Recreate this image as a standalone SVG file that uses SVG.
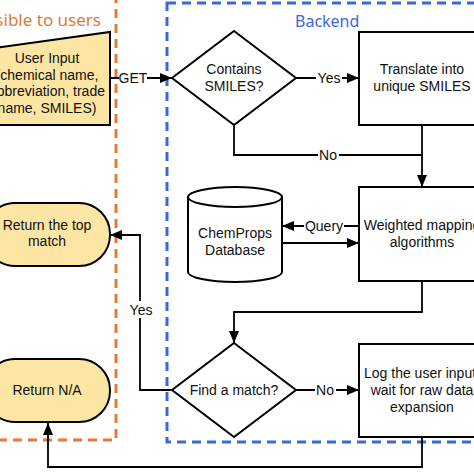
<svg xmlns="http://www.w3.org/2000/svg" width="474" height="474" viewBox="0 0 474 474">
<defs>
<marker id="ah" viewBox="0 0 12 10" refX="12" refY="5" markerWidth="12" markerHeight="10" markerUnits="userSpaceOnUse" orient="auto">
<path d="M0,0 L12,5 L0,10 Z" fill="#000"/>
</marker>
<style>
.t{font-family:"Liberation Sans",Arial,sans-serif;font-size:14px;fill:#111;text-anchor:middle}
.n{stroke:#000;stroke-width:2;fill:#fff}
.y{stroke:#000;stroke-width:2;fill:#fde6a3}
.c{stroke:#000;stroke-width:1.8;fill:none}
.a{marker-end:url(#ah)}
.lb{fill:#fff}
.grp{font-family:"Noto Sans","Open Sans",sans-serif;font-size:16px}
</style>
</defs>
<rect width="474" height="474" fill="#fff"/>
<g id="group-users">
<rect x="-20" y="-20" width="136" height="460" fill="none" stroke="#e07b39" stroke-width="3" stroke-dasharray="9 6"/>
<text class="grp" x="101" y="26" text-anchor="end" fill="#e07b39" style="font-size:17px">Visible to users</text>
</g>
<g id="group-backend">
<rect x="167" y="3" width="330" height="439" fill="none" stroke="#3a68d8" stroke-width="3" stroke-dasharray="9 6"/>
<text class="grp" x="295" y="27" fill="#3a68d8">Backend</text>
</g>
<g id="connectors">
<path class="c a" d="M110,78 H172"/>
<path class="c a" d="M296,78 H359"/>
<path class="c" d="M234,125 V155 H422"/>
<path class="c a" d="M422,125 V187"/>
<path class="c a" d="M359,226 H282"/>
<path class="c a" d="M282,243 H359"/>
<path class="c a" d="M422,281 V312 H234 V343"/>
<path class="c a" d="M296,390 H359"/>
<path class="c a" d="M422,437 V467 H48 V423"/>
<path class="c a" d="M172,390 H140 V235 H110"/>
<rect class="lb" x="119" y="70" width="28" height="16"/>
<text class="t" x="133" y="83">GET</text>
<rect class="lb" x="316" y="70" width="26" height="16"/>
<text class="t" x="329" y="83">Yes</text>
<rect class="lb" x="318" y="147" width="21" height="16"/>
<text class="t" x="328" y="160">No</text>
<rect class="lb" x="304" y="218" width="40" height="16"/>
<text class="t" x="324" y="231">Query</text>
<rect class="lb" x="315" y="382" width="21" height="16"/>
<text class="t" x="325" y="395">No</text>
<rect class="lb" x="128" y="301" width="26" height="17"/>
<text class="t" x="141" y="315">Yes</text>
</g>
<g id="user-input">
<path class="y" d="M-20,50 L110,32 L110,125 L-20,125 Z"/>
<text class="t" x="47" y="63">User Input</text>
<text class="t" x="47" y="80">(chemical name,</text>
<text class="t" x="47" y="96">abbreviation, trade</text>
<text class="t" x="47" y="113">name, SMILES)</text>
</g>
<g id="contains-smiles">
<path class="n" d="M234,31 L296,78 L234,125 L172,78 Z"/>
<text class="t" x="234" y="74">Contains</text>
<text class="t" x="234" y="91">SMILES?</text>
</g>
<g id="translate">
<rect class="n" x="359" y="32" width="126" height="93"/>
<text class="t" x="422" y="74">Translate into</text>
<text class="t" x="422" y="91">unique SMILES</text>
</g>
<g id="chemprops-db">
<path class="n" d="M188,197 V272 A47,10 0 0 0 282,272 V197 A47,10 0 0 0 188,197 A47,10 0 0 0 282,197"/>
<text class="t" x="235" y="238">ChemProps</text>
<text class="t" x="235" y="255">Database</text>
</g>
<g id="weighted-mapping">
<rect class="n" x="359" y="187" width="126" height="94"/>
<text class="t" x="422" y="230">Weighted mapping</text>
<text class="t" x="422" y="247">algorithms</text>
</g>
<g id="return-top">
<rect class="y" x="-16" y="203" width="126" height="63" rx="31" ry="31"/>
<text class="t" x="47" y="230">Return the top</text>
<text class="t" x="47" y="246">match</text>
</g>
<g id="find-match">
<path class="n" d="M234,343 L296,390 L234,437 L172,390 Z"/>
<text class="t" x="234" y="395">Find a match?</text>
</g>
<g id="log-input">
<rect class="n" x="359" y="344" width="126" height="93"/>
<text class="t" x="422" y="378">Log the user input,</text>
<text class="t" x="422" y="395">wait for raw data</text>
<text class="t" x="422" y="412">expansion</text>
</g>
<g id="return-na">
<rect class="y" x="-16" y="359" width="126" height="63" rx="31" ry="31"/>
<text class="t" x="47" y="395">Return N/A</text>
</g>
</svg>
